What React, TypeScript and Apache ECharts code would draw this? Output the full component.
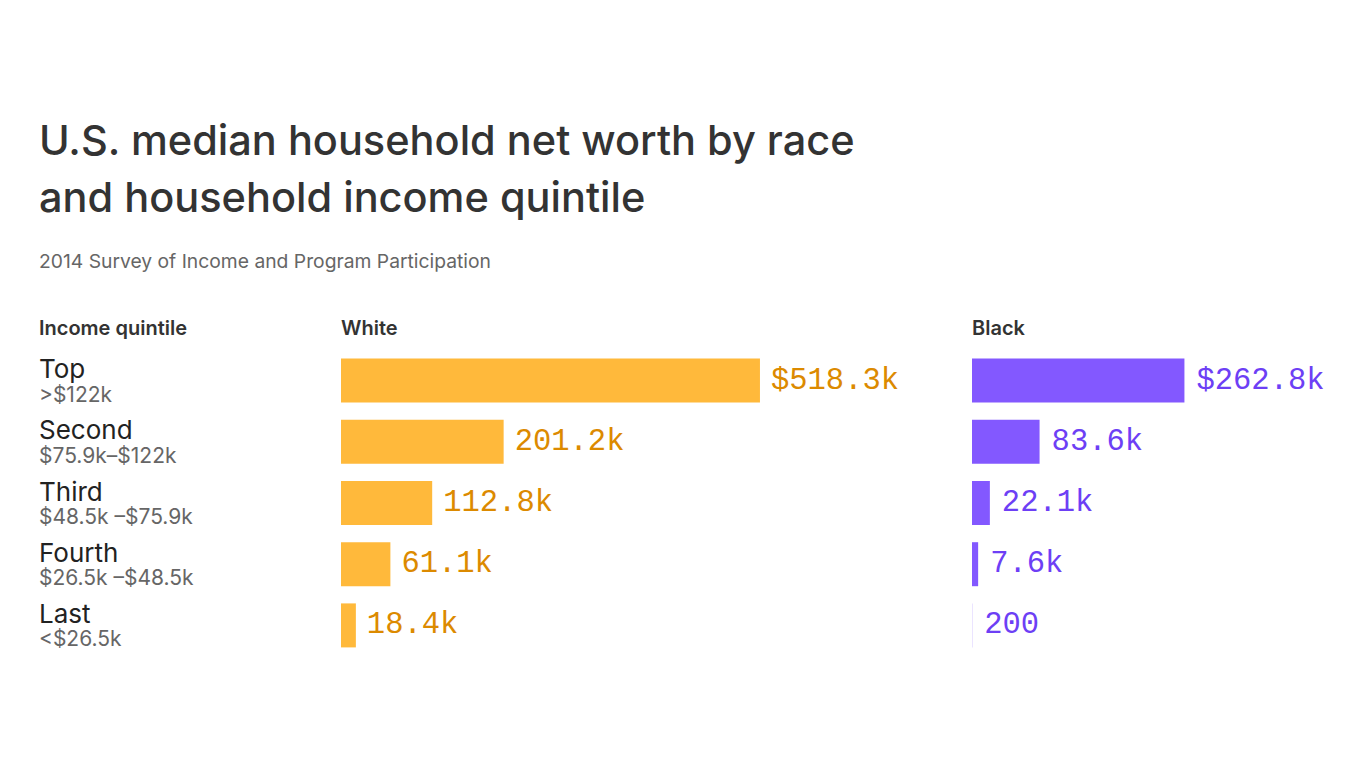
import React, { useEffect, useRef } from "react";
import * as echarts from "echarts";

const quintiles = ["Top", "Second", "Third", "Fourth", "Last"];
const ranges = [">$122k", "$75.9k–$122k", "$48.5k –$75.9k", "$26.5k –$48.5k", "<$26.5k"];
const whiteValues = [518.3, 201.2, 112.8, 61.1, 18.4]; // thousands of dollars
const blackValues = [262.8, 83.6, 22.1, 7.6, 0.2];

const fmt = (v: number, i: number) => {
  const s = v >= 1 ? v.toFixed(1) + "k" : (v * 1000).toFixed(0);
  return i === 0 ? "$" + s : s;
};

export default function App() {
  const ref = useRef<HTMLDivElement>(null);
  useEffect(() => {
    const chart = echarts.init(ref.current!, null, { renderer: "svg" });
    const sans = "Inter, 'Noto Sans', sans-serif";
    const mono = "'Liberation Mono', 'DejaVu Sans Mono', monospace";
    const grids = [
      { left: 341, top: 350, width: 485, height: 306 },
      { left: 972, top: 350, width: 242.5, height: 306 },
    ];
    const header = { fontFamily: sans, fontSize: 20, fontWeight: 600, color: "#333333" };
    chart.setOption({
      animation: false,
      backgroundColor: "#ffffff",
      title: [
        {
          text: "U.S. median household net worth by race\nand household income quintile",
          left: 39,
          top: 111,
          padding: 0,
          textStyle: { fontFamily: sans, fontSize: 41.5, fontWeight: 500, color: "#333333", lineHeight: 57 },
        },
        {
          text: "2014 Survey of Income and Program Participation",
          left: 39,
          top: 251,
          padding: 0,
          textStyle: { fontFamily: sans, fontSize: 19.3, fontWeight: 400, color: "#666666" },
        },
        { text: "Income quintile", left: 39, top: 318, padding: 0, textStyle: header },
        { text: "White", left: 341, top: 318, padding: 0, textStyle: header },
        { text: "Black", left: 972, top: 318, padding: 0, textStyle: header },
      ],
      grid: grids,
      xAxis: [
        { type: "value", gridIndex: 0, min: 0, max: 600, show: false },
        { type: "value", gridIndex: 1, min: 0, max: 300, show: false },
      ],
      yAxis: [
        {
          type: "category",
          gridIndex: 0,
          data: quintiles,
          inverse: true,
          axisLine: { show: false },
          axisTick: { show: false },
          axisLabel: {
            align: "left",
            margin: 302,
            formatter: (v: string, i: number) => `{a|${v}}\n{b|${ranges[i]}}`,
            rich: {
              a: { fontFamily: sans, fontSize: 26, color: "#222222", lineHeight: 27 },
              b: { fontFamily: sans, fontSize: 21, color: "#666666", lineHeight: 24 },
            },
          },
        },
        {
          type: "category",
          gridIndex: 1,
          data: quintiles,
          inverse: true,
          axisLine: { show: false },
          axisTick: { show: false },
          axisLabel: { show: false },
        },
      ],
      series: [
        {
          type: "bar",
          xAxisIndex: 0,
          yAxisIndex: 0,
          data: whiteValues,
          barWidth: 44,
          itemStyle: { color: "#FFB93B" },
          label: {
            show: true,
            position: "right",
            distance: 11,
            formatter: (p: any) => fmt(p.value, p.dataIndex),
            fontFamily: mono,
            fontSize: 30.5,
            color: "#DC8A00",
          },
        },
        {
          type: "bar",
          xAxisIndex: 1,
          yAxisIndex: 1,
          data: blackValues,
          barWidth: 44,
          itemStyle: { color: "#8358FF" },
          label: {
            show: true,
            position: "right",
            distance: 12,
            formatter: (p: any) => fmt(p.value, p.dataIndex),
            fontFamily: mono,
            fontSize: 30.5,
            color: "#6D3FF5",
          },
        },
      ],
    });
    return () => chart.dispose();
  }, []);
  return (
    <div
      ref={ref}
      style={{ position: "fixed", left: 0, top: 0, width: 1366, height: 768 }}
    />
  );
}
